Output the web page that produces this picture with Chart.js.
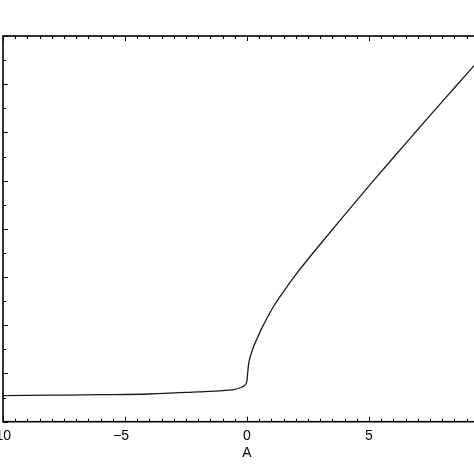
<!DOCTYPE html>
<html>
<head>
<meta charset="utf-8">
<script src="https://cdn.jsdelivr.net/npm/chart.js@4.4.3/dist/chart.umd.min.js"></script>
<style>
  html, body { margin: 0; padding: 0; background: #fff; overflow: hidden; }
  #wrap { position: absolute; left: -40px; top: 0; width: 546px; height: 474px; }
</style>
</head>
<body>
<div id="wrap"><canvas id="chart"></canvas></div>
<script>
// values
const aValues = [-10, -8, -6, -4, -2, -1, -0.6, -0.2, -0.1, -0.03, 0, 0.02, 0.04, 0.06, 0.09, 0.14, 0.25, 0.4, 0.6, 0.8, 1.1, 1.5, 2, 2.5, 3, 4, 5, 6, 7, 8, 9, 10];
const yValues = [0.54, 0.55, 0.56, 0.575, 0.62, 0.645, 0.66, 0.72, 0.75, 0.80, 0.86, 0.97, 1.08, 1.17, 1.26, 1.36, 1.53, 1.71, 1.93, 2.13, 2.40, 2.70, 3.05, 3.37, 3.68, 4.29, 4.89, 5.48, 6.06, 6.64, 7.21, 7.78];

const xMajorTicks = [-10, -5, 0, 5, 10];
const xTickLabels = ['\u221210', '\u22125', '0', '5', '10'];
const xMinorStep = 0.5;
const yMajorTicks = [0, 1, 2, 3, 4, 5, 6, 7, 8];
const yMinorStep = 0.5;

const points = aValues.map((a, i) => ({ x: a, y: yValues[i] }));

// boxed frame with inward ticks on all four sides
const frameTicks = {
  id: 'frameTicks',
  afterDraw(chart) {
    const { ctx, chartArea: { left, right, top, bottom }, scales: { x, y } } = chart;
    ctx.save();
    ctx.strokeStyle = '#000';
    ctx.lineWidth = 1;
    ctx.beginPath();
    for (let t = x.min; t <= x.max + 1e-9; t += xMinorStep) {
      const len = xMajorTicks.includes(t) ? 5 : 3;
      const px = Math.round(x.getPixelForValue(t)) + 0.5;
      ctx.moveTo(px, bottom); ctx.lineTo(px, bottom - len);
      ctx.moveTo(px, top); ctx.lineTo(px, top + len);
    }
    for (let t = y.min; t <= y.max + 1e-9; t += yMinorStep) {
      const len = yMajorTicks.includes(t) ? 5 : 3;
      const py = Math.round(y.getPixelForValue(t)) + 0.5;
      ctx.moveTo(left, py); ctx.lineTo(left + len, py);
      ctx.moveTo(right, py); ctx.lineTo(right - len, py);
    }
    ctx.stroke();
    ctx.lineWidth = 1.6;
    ctx.strokeRect(left, top, right - left, bottom - top);
    ctx.restore();
  }
};

new Chart(document.getElementById('chart'), {
  type: 'line',
  data: {
    datasets: [{
      data: points,
      borderColor: '#1a1a1a',
      borderWidth: 1.3,
      pointRadius: 0,
      cubicInterpolationMode: 'monotone',
      fill: false
    }]
  },
  options: {
    responsive: true,
    maintainAspectRatio: false,
    animation: false,
    layout: { padding: { left: 43, top: 36, right: 15, bottom: 0 } },
    plugins: { legend: { display: false }, tooltip: { enabled: false } },
    scales: {
      x: {
        type: 'linear',
        min: -10,
        max: 10,
        afterFit: s => { s.height = 52.3; },
        afterBuildTicks: s => { s.ticks = xMajorTicks.map(v => ({ value: v })); },
        grid: { display: false, drawTicks: false },
        border: { display: false },
        ticks: {
          padding: 6,
          color: '#000',
          font: { family: '"Liberation Sans", Arial, sans-serif', size: 14 },
          // negative labels sit a little left of their tick, as in the original
          callback: v => xTickLabels[xMajorTicks.indexOf(v)] + (v < 0 ? '\u00A0\u00A0' : '')
        },
        title: {
          display: true,
          text: 'A',
          color: '#000',
          font: { family: '"Liberation Sans", Arial, sans-serif', size: 14 },
          padding: { top: 0, bottom: 12 }
        }
      },
      y: {
        type: 'linear',
        min: 0,
        max: 8,
        display: false
      }
    }
  },
  plugins: [frameTicks]
});
</script>
</body>
</html>
